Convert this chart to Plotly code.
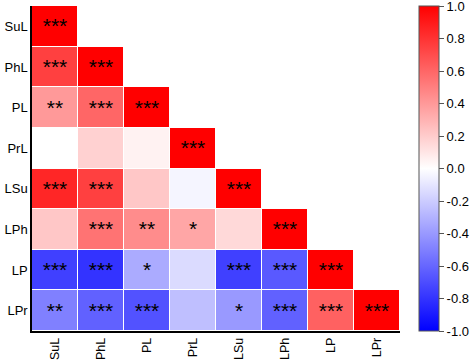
import plotly.graph_objects as go

labels = ["SuL", "PhL", "PL", "PrL", "LSu", "LPh", "LP", "LPr"]

# lower-triangle correlation values (row i, columns 0..i)
corr_rows = [
    [1.0],
    [0.75, 1.0],
    [0.40, 0.60, 1.0],
    [0.00, 0.18, 0.05, 1.0],
    [0.85, 0.75, 0.22, -0.04, 1.0],
    [0.22, 0.55, 0.45, 0.35, 0.15, 1.0],
    [-0.75, -0.80, -0.33, -0.14, -0.75, -0.65, 1.0],
    [-0.50, -0.62, -0.68, -0.25, -0.40, -0.62, 0.62, 1.0],
]

sig_rows = [
    ["***"],
    ["***", "***"],
    ["**", "***", "***"],
    ["", "", "", "***"],
    ["***", "***", "", "", "***"],
    ["", "***", "**", "*", "", "***"],
    ["***", "***", "*", "", "***", "***", "***"],
    ["**", "***", "***", "", "*", "***", "***", "***"],
]

cbar_ticks = [-1.0, -0.8, -0.6, -0.4, -0.2, 0.0, 0.2, 0.4, 0.6, 0.8, 1.0]

n = len(labels)
z = []
text = []
for i in range(n):
    row = corr_rows[i] + [None] * (n - 1 - i)
    trow = sig_rows[i] + [""] * (n - 1 - i)
    z.append(row)
    text.append(trow)

fig = go.Figure(
    go.Heatmap(
        z=z,
        x=labels,
        y=labels,
        text=text,
        texttemplate="%{text}",
        textfont=dict(family="Arial, Liberation Sans", size=21, color="black"),
        zmin=-1,
        zmax=1,
        colorscale=[[0, "#0000FF"], [0.5, "#FFFFFF"], [1, "#FF0000"]],
        xgap=1,
        ygap=1,
        hoverongaps=False,
        colorbar=dict(
            x=1.0516,
            xanchor="left",
            y=0.5,
            yanchor="middle",
            len=1.0,
            lenmode="fraction",
            thickness=20,
            outlinewidth=1,
            outlinecolor="#555555",
            tickvals=cbar_ticks,
            ticktext=["%.1f" % v for v in cbar_ticks],
            ticks="outside",
            ticklen=5,
            tickcolor="#555555",
            ticklabeloverflow="allow",
            tickfont=dict(family="Arial, Liberation Sans", size=13, color="black"),
            xpad=0,
            ypad=0,
        ),
    )
)

fig.update_layout(
    width=474,
    height=362,
    margin=dict(l=32, r=74, t=6, b=31, autoexpand=False),
    plot_bgcolor="white",
    paper_bgcolor="white",
    font=dict(family="Arial, Liberation Sans", size=13, color="black"),
)
fig.update_xaxes(
    tickangle=-90,
    showline=True,
    linecolor="black",
    linewidth=1.5,
    ticks="",
    showgrid=False,
    zeroline=False,
    automargin=False,
    tickfont=dict(size=12.5),
)
fig.update_yaxes(
    autorange="reversed",
    showline=True,
    linecolor="black",
    linewidth=1.5,
    ticks="",
    showgrid=False,
    zeroline=False,
    automargin=False,
    tickfont=dict(size=13),
)

fig.write_html(
    "out.html",
    config={"displayModeBar": False},
    post_script="document.body.style.margin='0px';document.body.style.overflow='hidden';",
)
